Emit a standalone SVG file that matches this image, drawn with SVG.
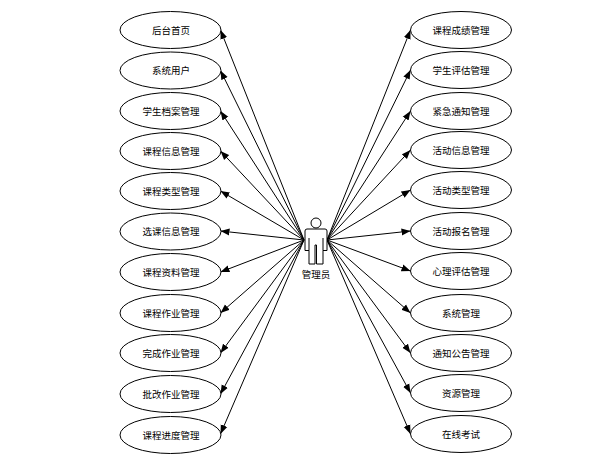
<svg xmlns="http://www.w3.org/2000/svg" width="603" height="468" viewBox="0 0 603 468">
<style>
.n{fill:#fff;stroke:#000;stroke-width:1}
.t{font-family:"Noto Sans CJK SC","Liberation Sans",sans-serif;font-size:9.5px;fill:#000;text-anchor:middle}
.c line{stroke:#000;stroke-width:1;marker-end:url(#a)}
</style>
<defs><marker id="a" markerUnits="userSpaceOnUse" markerWidth="10" markerHeight="8" refX="9" refY="4" orient="auto"><path d="M0 .5L9 4L0 7.500z" fill="#000"/></marker></defs>
<rect width="603" height="468" fill="#fff"/>
<g id="connectors" class="c">
<line x1="304" y1="240" x2="220.500" y2="30"/>
<line x1="304" y1="240" x2="220.500" y2="70.500"/>
<line x1="304" y1="240" x2="220.500" y2="111"/>
<line x1="304" y1="240" x2="220.500" y2="151"/>
<line x1="304" y1="240" x2="220.500" y2="191"/>
<line x1="304" y1="240" x2="220.500" y2="231"/>
<line x1="304" y1="240" x2="220.500" y2="272"/>
<line x1="304" y1="240" x2="220.500" y2="313"/>
<line x1="304" y1="240" x2="220.500" y2="353"/>
<line x1="304" y1="240" x2="220.500" y2="394"/>
<line x1="304" y1="240" x2="220.500" y2="434"/>
<line x1="327" y1="240" x2="410.500" y2="30"/>
<line x1="327" y1="240" x2="410.500" y2="70"/>
<line x1="327" y1="240" x2="410.500" y2="111"/>
<line x1="327" y1="240" x2="410.500" y2="150"/>
<line x1="327" y1="240" x2="410.500" y2="190"/>
<line x1="327" y1="240" x2="410.500" y2="231"/>
<line x1="327" y1="240" x2="410.500" y2="271"/>
<line x1="327" y1="240" x2="410.500" y2="313"/>
<line x1="327" y1="240" x2="410.500" y2="353"/>
<line x1="327" y1="240" x2="410.500" y2="393"/>
<line x1="327" y1="240" x2="410.500" y2="434"/>
</g>
<g id="actor"><circle class="n" cx="316" cy="223" r="5"/><path class="n" d="M307 229H325Q327 229 327 231V250.500H323V264H316.500V245H315V264H309V250.500H305V231Q305 229 307 229Z"/><path class="n" d="M309 238V250.500M323 238V250.500" fill="none"/><text class="t" x="316" y="278">管理员</text></g>
<g id="l1"><ellipse class="n" cx="170.500" cy="30" rx="50.500" ry="18.500"/><text class="t" x="171" y="33.500">后台首页</text></g>
<g id="l2"><ellipse class="n" cx="170.500" cy="70.500" rx="50.500" ry="18.500"/><text class="t" x="171" y="74">系统用户</text></g>
<g id="l3"><ellipse class="n" cx="170.500" cy="111" rx="50.500" ry="18.500"/><text class="t" x="171" y="114.500">学生档案管理</text></g>
<g id="l4"><ellipse class="n" cx="170.500" cy="151" rx="50.500" ry="18.500"/><text class="t" x="171" y="154.500">课程信息管理</text></g>
<g id="l5"><ellipse class="n" cx="170.500" cy="191" rx="50.500" ry="18.500"/><text class="t" x="171" y="194.500">课程类型管理</text></g>
<g id="l6"><ellipse class="n" cx="170.500" cy="231.500" rx="50.500" ry="18.500"/><text class="t" x="171" y="235">选课信息管理</text></g>
<g id="l7"><ellipse class="n" cx="170.500" cy="272" rx="50.500" ry="18.500"/><text class="t" x="171" y="275.500">课程资料管理</text></g>
<g id="l8"><ellipse class="n" cx="170.500" cy="313" rx="50.500" ry="18.500"/><text class="t" x="171" y="316.500">课程作业管理</text></g>
<g id="l9"><ellipse class="n" cx="170.500" cy="353" rx="50.500" ry="18.500"/><text class="t" x="171" y="357">完成作业管理</text></g>
<g id="l10"><ellipse class="n" cx="170.500" cy="394" rx="50.500" ry="18.500"/><text class="t" x="171" y="398">批改作业管理</text></g>
<g id="l11"><ellipse class="n" cx="170.500" cy="435" rx="50.500" ry="18.500"/><text class="t" x="171" y="438.500">课程进度管理</text></g>
<g id="r1"><ellipse class="n" cx="461" cy="30" rx="50.500" ry="18.500"/><text class="t" x="461" y="33.500">课程成绩管理</text></g>
<g id="r2"><ellipse class="n" cx="461" cy="70" rx="50.500" ry="18.500"/><text class="t" x="461" y="74">学生评估管理</text></g>
<g id="r3"><ellipse class="n" cx="461" cy="111" rx="50.500" ry="18.500"/><text class="t" x="461" y="114.500">紧急通知管理</text></g>
<g id="r4"><ellipse class="n" cx="461" cy="150" rx="50.500" ry="18.500"/><text class="t" x="461" y="153.500">活动信息管理</text></g>
<g id="r5"><ellipse class="n" cx="461" cy="190" rx="50.500" ry="18.500"/><text class="t" x="461" y="194">活动类型管理</text></g>
<g id="r6"><ellipse class="n" cx="461" cy="231" rx="50.500" ry="18.500"/><text class="t" x="461" y="234.500">活动报名管理</text></g>
<g id="r7"><ellipse class="n" cx="461" cy="271" rx="50.500" ry="18.500"/><text class="t" x="461" y="275">心理评估管理</text></g>
<g id="r8"><ellipse class="n" cx="461" cy="313" rx="50.500" ry="18.500"/><text class="t" x="461" y="316.500">系统管理</text></g>
<g id="r9"><ellipse class="n" cx="461" cy="353" rx="50.500" ry="18.500"/><text class="t" x="461" y="356.500">通知公告管理</text></g>
<g id="r10"><ellipse class="n" cx="461" cy="393" rx="50.500" ry="18.500"/><text class="t" x="461" y="397">资源管理</text></g>
<g id="r11"><ellipse class="n" cx="461" cy="434" rx="50.500" ry="18.500"/><text class="t" x="461" y="437.500">在线考试</text></g>
</svg>
